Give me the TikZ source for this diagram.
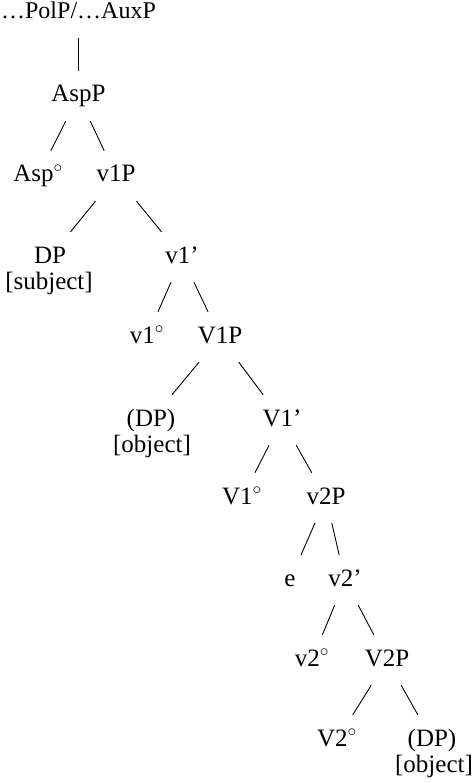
\documentclass[tikz,border=0pt]{standalone}
\usepackage{fontspec}
\setmainfont{Liberation Serif}
\newcommand{\dg}{$^\circ$}
\begin{document}
\begin{tikzpicture}[x=1pt,y=-1pt,font=\fontsize{25}{29}\selectfont,
  every node/.style={inner sep=0pt,text height=17pt,text depth=5pt},
  cat/.style={minimum width=50pt,minimum height=50pt},
  branch/.style={line width=0.9pt}]
  \useasboundingbox (0,0) rectangle (474,783);
  \node[cat,font=\fontsize{24}{28}\selectfont] (top) at (78.5,13) {…PolP/…AuxP};
  \node[cat] (AspP) at (78.5,96) {AspP};
  \node[cat] (Asp) at (38,176) {Asp\dg};
  \node[cat] (v1P) at (116,176) {v1P};
  \node[cat] (DPs) at (50,257) {DP};
  \node (subj) at (49,283) {[subject]};
  \node[cat] (v1bar) at (182,257) {v1’};
  \node[cat] (v1) at (147,337) {v1\dg};
  \node[cat] (V1P) at (220,337) {V1P};
  \node[cat] (DPo) at (151,420) {(DP)};
  \node (obj) at (152,446) {[object]};
  \node[cat] (V1bar) at (282,420) {V1’};
  \node[cat] (V1) at (242,498) {V1\dg};
  \node[cat] (v2P) at (326,498) {v2P};
  \node[cat] (e) at (290,580) {e};
  \node[cat] (v2bar) at (345,580) {v2’};
  \node[cat] (v2) at (312,660) {v2\dg};
  \node[cat] (V2P) at (387,660) {V2P};
  \node[cat] (V2) at (337,740) {V2\dg};
  \node[cat] (DPo2) at (432,740) {(DP)};
  \node (obj2) at (434,766) {[object]};
  \draw[branch] (top) -- (AspP);
  \draw[branch] (AspP) -- (Asp);
  \draw[branch] (AspP) -- (v1P);
  \draw[branch] (v1P) -- (DPs);
  \draw[branch] (v1P) -- (v1bar);
  \draw[branch] (v1bar) -- (v1);
  \draw[branch] (v1bar) -- (V1P);
  \draw[branch] (V1P) -- (DPo);
  \draw[branch] (V1P) -- (V1bar);
  \draw[branch] (V1bar) -- (V1);
  \draw[branch] (V1bar) -- (v2P);
  \draw[branch] (v2P) -- (e);
  \draw[branch] (v2P) -- (v2bar);
  \draw[branch] (v2bar) -- (v2);
  \draw[branch] (v2bar) -- (V2P);
  \draw[branch] (V2P) -- (V2);
  \draw[branch] (V2P) -- (DPo2);
\end{tikzpicture}
\end{document}
